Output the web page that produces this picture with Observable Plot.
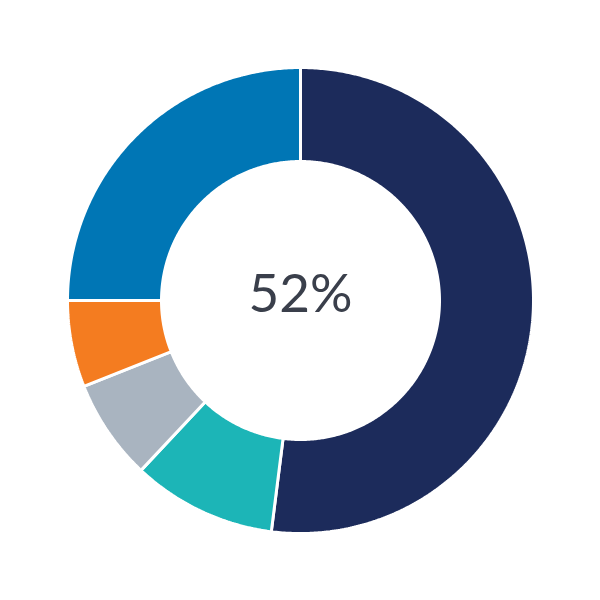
<!DOCTYPE html>
<html>
<head>
<meta charset="utf-8">
<script src="https://cdn.jsdelivr.net/npm/d3@7"></script>
<script src="https://cdn.jsdelivr.net/npm/@observablehq/plot@0.6"></script>
<style>
  html, body { margin: 0; padding: 0; background: #ffffff; }
  #chart { width: 600px; height: 600px; }
</style>
</head>
<body>
<div id="chart"></div>
<script>
// Data
const categories = ["Segment A", "Segment B", "Segment C", "Segment D", "Segment E"];
const values = [52, 10, 7, 6, 25];
const colors = ["#1c2b5b", "#1cb5b7", "#a9b4c0", "#f47c20", "#0076b5"];
const centerLabel = ["52%"];

// Geometry (in frame units; identity projection)
const outerR = 233, innerR = 139, half = 300;
const pie = d3.pie().sort(null).value(d => d.value);
const arcs = pie(categories.map((c, i) => ({key: c, value: values[i]})));

function slicePolygon(a) {
  const pts = [];
  const n = Math.max(2, Math.ceil((a.endAngle - a.startAngle) / (Math.PI / 360)));
  for (let i = 0; i <= n; i++) {
    const t = a.startAngle + (a.endAngle - a.startAngle) * i / n;
    pts.push([outerR * Math.sin(t), outerR * Math.cos(t)]);
  }
  for (let i = n; i >= 0; i--) {
    const t = a.startAngle + (a.endAngle - a.startAngle) * i / n;
    pts.push([innerR * Math.sin(t), innerR * Math.cos(t)]);
  }
  pts.push(pts[0]);
  return pts;
}

const features = arcs.map(a => ({
  type: "Feature",
  properties: {key: a.data.key, value: a.data.value},
  geometry: {type: "Polygon", coordinates: [slicePolygon(a)]}
}));

const frameDomain = {type: "Polygon", coordinates: [[[-half, -half], [half, -half], [half, half], [-half, half], [-half, -half]]]};

const chart = Plot.plot({
  width: 600,
  height: 600,
  margin: 0,
  projection: {type: "reflect-y", domain: frameDomain},
  color: {domain: categories, range: colors},
  marks: [
    Plot.geo(features, {
      fill: d => d.properties.key,
      stroke: "#ffffff",
      strokeWidth: 3,
      strokeLinejoin: "miter"
    }),
    Plot.text(centerLabel, {
      text: d => d,
      frameAnchor: "middle",
      dy: -5,
      fontSize: 53,
      fontWeight: 400,
      fill: "#3a3f4b"
    })
  ],
  style: {fontFamily: "Lato, 'Open Sans', sans-serif", background: "#ffffff"}
});

document.getElementById("chart").appendChild(chart);
</script>
</body>
</html>
